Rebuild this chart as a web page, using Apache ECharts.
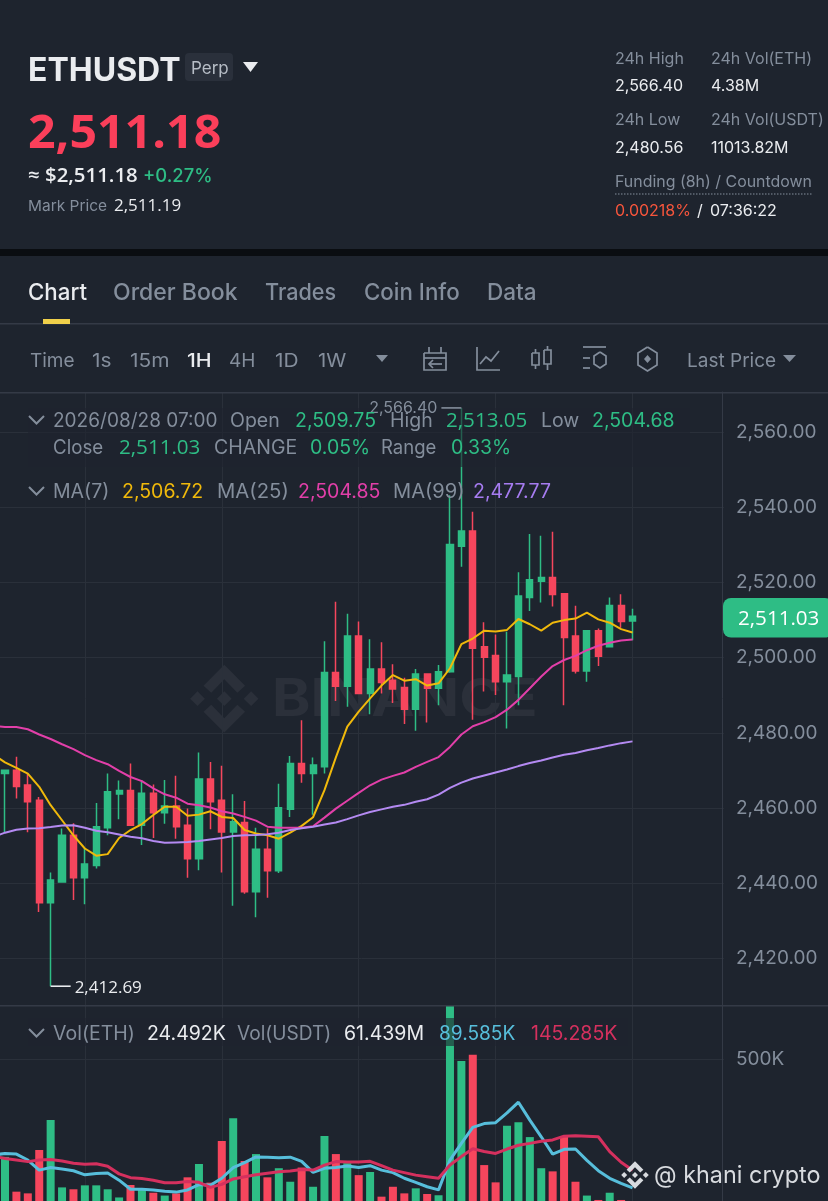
<!DOCTYPE html>
<html><head><meta charset="utf-8">
<script src="https://cdn.jsdelivr.net/npm/echarts@6/dist/echarts.min.js"></script>
<style>html,body{margin:0;padding:0;background:#1E242E}#c{width:828px;height:1201px}</style>
</head><body><div id="c"></div>
<script>
const opens=[2469.2,2470.1,2466.2,2462.1,2434.9,2440.4,2452.8,2441.5,2444.8,2454.8,2463.8,2464.7,2455.5,2464.0,2458.8,2460.6,2455.5,2446.6,2467.8,2462.1,2453.7,2456.2,2437.8,2449.1,2443.4,2459.7,2471.9,2469.2,2471.0,2496.1,2492.4,2505.8,2490.5,2497.0,2494.0,2492.1,2486.3,2495.7,2491.9,2496.3,2529.6,2533.7,2502.9,2500.6,2493.6,2495.0,2516.0,2520.3,2521.3,2517.0,2505.8,2496.5,2507.2,2502.9,2513.9,2509.75];
const closes=[2470.1,2465.8,2461.7,2434.9,2440.9,2452.8,2441.5,2445.2,2455.1,2464.4,2464.7,2455.5,2464.0,2458.8,2460.6,2455.1,2446.6,2467.8,2461.7,2453.7,2456.4,2437.8,2449.1,2443.4,2460.1,2471.9,2469.2,2471.5,2496.1,2492.4,2505.8,2490.5,2497.0,2493.4,2491.7,2486.3,2495.7,2491.9,2496.3,2530.1,2533.7,2502.5,2500.1,2493.6,2495.4,2516.4,2520.7,2521.3,2516.8,2505.4,2496.5,2507.2,2500.4,2513.9,2509.6,2511.03];
const highs=[2470.3,2473.7,2469.2,2463.0,2442.9,2454.6,2456.0,2449.3,2461.4,2469.2,2467.4,2471.9,2467.5,2466.3,2467.5,2468.6,2459.9,2474.8,2472.3,2471.3,2463.7,2461.9,2454.8,2454.6,2466.5,2473.9,2483.4,2473.5,2504.4,2514.9,2511.7,2509.6,2504.9,2504.1,2498.3,2494.7,2497.0,2495.8,2498.1,2543.2,2566.40,2538.8,2509.4,2506.2,2506.9,2522.7,2532.9,2532.4,2533.5,2517.1,2513.8,2507.2,2507.8,2516.0,2516.9,2513.05];
const lows=[2453.5,2462.6,2453.6,2432.4,2412.69,2440.2,2435.6,2434.5,2444.0,2452.8,2457.1,2455.4,2450.2,2452.1,2455.9,2451.9,2441.5,2443.5,2454.4,2442.9,2434.1,2437.3,2431.0,2436.2,2442.8,2457.7,2466.8,2458.3,2469.2,2488.5,2487.0,2490.5,2485.0,2490.5,2488.0,2482.4,2480.6,2482.8,2487.4,2496.0,2524.2,2483.5,2491.0,2490.1,2481.2,2487.4,2512.4,2514.7,2513.6,2487.4,2495.8,2493.6,2497.8,2502.9,2508.0,2504.68];
const volumes=[188,77.4,72,210,305,91,85,97.5,97.5,85,59,98.6,83,74,65,72,123,165.4,106,238.6,310.7,175,197,123,152,109,154,93,254.5,197,168,130,140,61.5,93,72,88,70,66,680,493,513,162,107,287,298,251,152,142,252,109,65,51,74,51,24.492];
const ma7=[2474.2,2472.2,2470.7,2469.2,2465.7,2460.8,2456.8,2452.8,2449.3,2447.4,2447.8,2452.1,2454.2,2455.8,2458.2,2460.4,2460.4,2458.0,2458.3,2459.2,2457.7,2457.4,2454.2,2453.3,2452.8,2451.9,2453.5,2455.3,2457.6,2464.8,2473.5,2481.7,2485.7,2489.2,2492.6,2495.4,2493.9,2494.3,2492.6,2493.2,2497.2,2503.6,2505.1,2507.2,2507.0,2507.4,2510.3,2508.9,2507.2,2509.3,2510.0,2510.4,2512.0,2510.2,2509.3,2507.6,2506.72];
const ma25=[2481.9,2481.6,2481.6,2481.0,2479.6,2478.4,2477.0,2475.7,2474.1,2472.8,2471.7,2469.9,2468.3,2467.2,2465.3,2463.7,2462.8,2461.2,2460.8,2460.2,2459.2,2458.6,2457.7,2456.7,2455.1,2454.8,2454.8,2454.8,2455.2,2457.5,2459.9,2462.0,2464.1,2466.1,2467.6,2468.6,2469.5,2471.0,2472.3,2473.6,2476.3,2479.6,2481.8,2482.9,2484.2,2486.2,2488.8,2491.9,2495.0,2497.8,2499.4,2500.5,2502.0,2503.2,2504.0,2504.6,2504.85];
const ma99=[2452.4,2453.5,2454.3,2454.6,2454.7,2455.0,2455.4,2455.5,2454.8,2454.0,2453.6,2453.0,2452.4,2452.0,2451.3,2450.8,2450.9,2451.0,2451.3,2451.7,2452.1,2452.6,2452.8,2452.9,2453.1,2453.5,2454.2,2454.7,2455.1,2455.7,2456.2,2457.1,2458.1,2459.0,2459.7,2460.4,2460.9,2461.7,2462.4,2463.6,2465.4,2466.8,2467.9,2468.7,2469.5,2470.3,2471.2,2472.0,2472.7,2473.5,2474.2,2474.7,2475.4,2476.0,2476.7,2477.3,2477.77];
const volMa5=[194,199,197,178,146,154,149.5,144,131,135,137,114,85,85,83,78.4,76,83,100,97.5,120,154,170,188,187,185.5,187,174,139,152,154,159,154,160,146,138,120,107,93,83,178,231,282,294,297,328,362,305,252,197,212,213,177,144,120,104,89.585];
const volMa10=[190,183,178,173,178,180,175,167.5,165,166,158,134,122,119,114,106,106,110,107,91,100.7,118,125,131,136,141,143,148,146,162,173,172,172,174,160,146,138,130,125,120,162,189,214,205,199,213,225,231,237.5,242,254,255.5,254,252,205,171,145.285];
const priceTicks=[2420,2440,2460,2480,2500,2520,2540,2560];
const volumeTicks=[500];

// ---- text tables: [x, y, text, size, colour, weight, scaleX, family]
const MUTED='#848E9C',LIGHT='#EAECEF',GREEN='#2EBD85',RED='#F6465D',YEL='#F0B90B',PINK='#E23FA9',PURP='#A67CF0',PURPL='#B48AF2',BLUE='#57BEDB',VRED='#D5305E';
const BG='#1E242E';
const OS='"Open Sans"';
const headerTexts=[
 [28,71,'ETHUSDT',32,LIGHT,700],[191,69,'Perp',17,'#B7BDC6',400],
 [28,135,'2,511.18',46,'#FB3F5A',700,1.05,OS],[28,176,'≈ $2,511.18',20,LIGHT,600,1.02,OS],[143,176,'+0.27%',19,GREEN,500,0.97],
 [28,206,'Mark Price',15,MUTED,400,1.03],[114,206,'2,511.19',17,LIGHT,400,1,OS],
 [615,59,'24h High',16,MUTED,400],[711,59,'24h Vol(ETH)',16,MUTED,400],
 [615,86,'2,566.40',16,LIGHT,400],[711,86,'4.38M',16,LIGHT,400],
 [615,120,'24h Low',16,MUTED,400],[711,120,'24h Vol(USDT)',16,MUTED,400],
 [615,148,'2,480.56',16,LIGHT,400],[711,148,'11013.82M',16,LIGHT,400],
 [615,182,'Funding (8h) / Countdown',16,MUTED,400,0.995],
 [615,211,'0.00218%',16,'#F7553C',400],[697,211,'/',16,LIGHT,400],[710,211,'07:36:22',16,LIGHT,400],
 [28,293,'Chart',23,LIGHT,500,0.97],[113,293,'Order Book',23,MUTED,500],[265,293,'Trades',23,MUTED,500,0.94],[364,293,'Coin Info',23,MUTED,500,0.97],[487,293,'Data',23,MUTED,500,0.98],
 [30,361,'Time',19,MUTED,400],[92,361,'1s',19,MUTED,400,1.1],[130,361,'15m',19,MUTED,400,1.1],[187,361,'1H',19,LIGHT,500,1.12],[229,361,'4H',19,MUTED,400],[275,361,'1D',19,MUTED,400,1.1],[318,361,'1W',19,MUTED,400,1.07],[687,361,'Last Price',19,MUTED,400]
];
const legendTexts=[
 [53,421,'2026/08/28 07:00',19.5,MUTED,400,0.976],[230,421,'Open',19.5,MUTED],[295,421,'2,509.75',19.5,GREEN],[390,421,'High',19.5,MUTED],[446,421,'2,513.05',20.6,GREEN,400,1,OS],[541,421,'Low',19.5,MUTED],[592,421,'2,504.68',19.5,GREEN],
 [53,448,'Close',19.5,MUTED,400,0.96],[119,448,'2,511.03',20.6,GREEN,400,1,OS],[214,448,'CHANGE',19.5,MUTED],[310,448,'0.05%',19.5,GREEN],[381,448,'Range',19.5,MUTED,400,0.95],[451,448,'0.33%',19.5,GREEN],
 [53,492,'MA(7)',19.5,MUTED],[122,492,'2,506.72',19.5,YEL],[217,492,'MA(25)',19.5,MUTED,400,1.04],[298,492,'2,504.85',19.5,PINK],[393,492,'MA(99)',19.5,MUTED,400,1.03],[473,492,'2,477.77',19.5,PURP],
 [53,1034,'Vol(ETH)',19.5,MUTED],[147,1034,'24.492K',19.5,LIGHT],[237,1034,'Vol(USDT)',19.5,MUTED,400,0.98],[344,1034,'61.439M',19.5,LIGHT],[439,1034,'89.585K',19.5,BLUE,400,0.98],[531,1034,'145.285K',19.5,VRED]
];

const FONT='Inter, "Noto Sans", sans-serif';
const els=[];
function txt(x,y,s,size,fill,weight,scale,family,z){els.push({type:'text',z:z||50,silent:true,x,y,scaleX:scale||1,style:{x:0,y:0,text:s,fill,font:(weight||400)+' '+size+'px '+(family||FONT),verticalAlign:'middle',align:'left'}});}
function rect(x,y,w,h,fill,r,z){els.push({type:'rect',z:z||40,silent:true,shape:{x,y,width:w,height:h,r:r||0},style:{fill}});}
function line(pts,stroke,w,z,dash){els.push({type:'polyline',z:z||50,silent:true,shape:{points:pts},style:{stroke,lineWidth:w||1.7,fill:null,lineDash:dash||null}});}
function poly(pts,fill,z){els.push({type:'polygon',z:z||50,silent:true,shape:{points:pts},style:{fill}});}
function logo(cx,cy,k,fill,z){
 const P=(a)=>a.map(p=>[cx+p[0]*k,cy+p[1]*k]);
 poly(P([[0,-101],[62,-39],[39,-18],[0,-58],[-39,-18],[-62,-39]]),fill,z);
 poly(P([[0,101],[62,39],[39,18],[0,58],[-39,18],[-62,39]]),fill,z);
 [[0,0],[-80,0],[80,0]].forEach(c=>poly(P([[c[0],-22],[c[0]+22,0],[c[0],22],[c[0]-22,0]]),fill,z));
}
// chrome
rect(0,249,828,7,'#0A0D11');
rect(0,323,828,1.5,'#343A46');
rect(43,319,27,5,'#F0D04A');
rect(0,392,828,1.5,'#343A46');
rect(0,1005,828,1.5,'#343A46');
rect(185,53,48,28,'#2A303B',4);
poly([[243,62],[258,62],[250.5,72]],'#EAECEF');
poly([[376,355],[388,355],[382,362]],MUTED);
poly([[783,355],[796,355],[789.5,362]],MUTED);
line([[615,194],[812,194]],MUTED,1,50,[1.5,1.5]);
// toolbar icons
line([[424,353],[446,353],[446,370],[424,370],[424,353]],MUTED);
line([[424,358],[446,358]],MUTED);line([[429,347],[429,353]],MUTED);line([[441,347],[441,353]],MUTED);
line([[442,364],[429,364]],MUTED);line([[433,360],[429,364],[433,368]],MUTED);
line([[477,347],[477,370],[500,370]],MUTED);line([[480,364],[486,357],[491,361],[499,351]],MUTED);
line([[532,353],[539,353],[539,365],[532,365],[532,353]],MUTED);line([[535.5,349],[535.5,353]],MUTED);line([[535.5,365],[535.5,369]],MUTED);
line([[544,350],[551,350],[551,364],[544,364],[544,350]],MUTED);line([[547.5,346],[547.5,350]],MUTED);line([[547.5,364],[547.5,370]],MUTED);
line([[583,347],[606,347]],MUTED);line([[583,358],[590,358]],MUTED);line([[583,368],[590,368]],MUTED);
line([[600,352],[606,356],[606,364],[600,368],[594,364],[594,356],[600,352]],MUTED);
line([[647.5,347],[657,353],[657,365],[647.5,371],[638,365],[638,353],[647.5,347]],MUTED);
poly([[647.5,355],[651,359],[647.5,363],[644,359]],MUTED);
// translucent legend backing, watermark
rect(28,408,662,59,'rgba(30,36,46,0.62)',0,30);
rect(28,1018,600,28,'rgba(30,36,46,0.62)',0,30);
logo(224.3,698.7,0.335,'#2B303A',-1);
els.push({type:'text',z:-1,silent:true,x:272,y:700,scaleX:1.12,style:{x:0,y:0,text:'BINANCE',fill:'#2B303A',font:'700 52px '+FONT,verticalAlign:'middle',align:'left'}});
// chevrons
[[420],[491],[1033]].forEach(r=>line([[29,r[0]-4],[36.5,r[0]+3.5],[44,r[0]-4]],MUTED,2));
headerTexts.forEach(t=>txt(t[0],t[1],t[2],t[3],t[4],t[5],t[6],t[7]));
legendTexts.forEach(t=>txt(t[0],t[1],t[2],t[3],t[4],t[5]||400,t[6],t[7]));
// price tag
rect(723,598,110,39.5,GREEN,8,45);
txt(738,619,'2,511.03',20.6,'#FFFFFF',400,1,OS,50);
// credit
logo(635,1175,0.135,'#D8DBDF',60);
txt(654,1176,'@ khani crypto',24,'#D8DBDF',400,0.975,null,60);

// axis
const start=Date.UTC(2026,7,28,7)-55*3600e3;
const pad2=n=>String(n).padStart(2,'0');
const cats=[];
for(let i=-1;i<64;i++){const d=new Date(start+i*3600e3);cats.push(d.getUTCFullYear()+'/'+pad2(d.getUTCMonth()+1)+'/'+pad2(d.getUTCDate())+' '+pad2(d.getUTCHours())+':00');}
const candle=opens.map((o,i)=>[o,closes[i],lows[i],highs[i]]);
const lead=a=>['-'].concat(a);
const volData=volumes.map((v,i)=>({value:v,itemStyle:{color:closes[i]>=opens[i]?GREEN:RED}}));
const vInterval=(i)=>(i-8)%12===0&&i>=8;
const gridC='#2A303A',axisC='#343A46';
const xBase=(g)=>({type:'category',gridIndex:g,data:cats,boundaryGap:false,axisLine:{show:false},axisTick:{show:false},axisLabel:{show:false},splitLine:{show:true,interval:vInterval,lineStyle:{color:gridC,width:1}}});
const lineS=(name,data,color,width,x,y,z)=>({name,type:'line',xAxisIndex:x,yAxisIndex:y,data,symbol:'none',smooth:false,z:z,lineStyle:{color,width},silent:true,animation:false,connectNulls:false});
const mark=(cat,val,label,color,off,pos,dy,size,fam)=>({coord:[cat,val],symbol:'rect',symbolSize:[20,1.6],symbolOffset:[off,0],itemStyle:{color},label:{show:true,formatter:label,position:pos,color,fontSize:size,distance:4,fontFamily:fam,offset:[0,dy]}});

const chart=echarts.init(document.getElementById('c'),null,{renderer:'canvas'});
chart.setOption({
 animation:false,backgroundColor:BG,
 grid:[{left:-6.41,width:730.21,top:392,height:613,containLabel:false,outerBoundsMode:'none'},{left:-6.41,width:730.21,top:1006,height:210,containLabel:false,outerBoundsMode:'none'}],
 xAxis:[xBase(0),xBase(1)],
 yAxis:[
  {type:'value',gridIndex:0,position:'right',offset:-1.8,min:2407.7,max:2570.63,scale:true,
   axisLine:{show:true,lineStyle:{color:axisC}},axisTick:{show:false,customValues:priceTicks},
   axisLabel:{customValues:priceTicks,margin:14,padding:[4,0,0,0],color:MUTED,fontSize:19,fontFamily:FONT,formatter:v=>v.toLocaleString('en-US',{minimumFractionDigits:2})},
   splitLine:{show:true,lineStyle:{color:gridC,width:1}}},
  {type:'value',gridIndex:1,position:'right',offset:-1.8,min:0,max:668,
   axisLine:{show:true,lineStyle:{color:axisC}},axisTick:{show:false,customValues:volumeTicks},
   axisLabel:{customValues:volumeTicks,margin:14,padding:[2,0,0,0],color:MUTED,fontSize:19,fontFamily:FONT,formatter:v=>v+'K'},
   splitLine:{show:true,lineStyle:{color:gridC,width:1}}}
 ],
 series:[
  {type:'candlestick',xAxisIndex:0,yAxisIndex:0,data:lead(candle),barWidth:6.6,z:3,silent:true,
   itemStyle:{color:GREEN,color0:RED,borderColor:GREEN,borderColor0:RED,borderWidth:1.5},
   markPoint:{silent:true,animation:false,z:40,data:[mark(cats[41],2566.40,'2,566.40',MUTED,-10,'left',0,16,FONT),mark(cats[5],2412.69,'2,412.69',LIGHT,10,'right',2,17,OS)]}},
  lineS('MA(7)',ma7,YEL,2,0,0,5),
  lineS('MA(25)',ma25,PINK,2,0,0,5),
  lineS('MA(99)',ma99,PURPL,2,0,0,5),
  {type:'bar',xAxisIndex:1,yAxisIndex:1,data:lead(volData),barWidth:8,z:3,silent:true},
  lineS('MA(5)',volMa5,BLUE,3,1,1,5),
  lineS('MA(10)',volMa10,VRED,3,1,1,5)
 ],
 graphic:{elements:els}
});
</script></body></html>
